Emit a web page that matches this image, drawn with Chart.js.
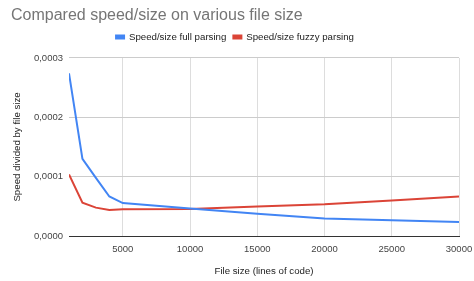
<!DOCTYPE html>
<html>
<head>
<meta charset="utf-8">
<script src="https://cdn.jsdelivr.net/npm/chart.js@4/dist/chart.umd.min.js"></script>
<style>
html,body{margin:0;padding:0;background:#fff;}
#wrap{width:474px;height:281px;position:relative;}
</style>
</head>
<body>
<div id="wrap"><canvas id="c" width="474" height="281"></canvas></div>
<script>
const titleText = 'Compared speed/size on various file size';
const seriesNames = ['Speed/size full parsing', 'Speed/size fuzzy parsing'];
const fileSizes = [1000, 2000, 3000, 4000, 5000, 10000, 15000, 20000, 25000, 30000];
const fullParsing = [0.000274, 0.000130, 0.000098, 0.0000665, 0.0000555, 0.0000465, 0.0000375, 0.0000295, 0.0000265, 0.0000235];
const fuzzyParsing = [0.0001035, 0.0000562, 0.0000478, 0.0000440, 0.0000452, 0.0000455, 0.0000495, 0.0000533, 0.0000600, 0.0000667];
const xTicks = [5000, 10000, 15000, 20000, 25000, 30000];
const yTicks = [0, 0.0001, 0.0002, 0.0003];
const yTickLabels = ['0,0000', '0,0001', '0,0002', '0,0003'];
const xTitle = 'File size (lines of code)';
const yTitle = 'Speed divided by file size';

const FONT = "Arial, 'Liberation Sans', sans-serif";
Chart.defaults.font.family = FONT;

const legendSpace = {
  id: 'legendSpace',
  afterInit(chart) {
    if (chart.legend) {
      const origFit = chart.legend.fit;
      chart.legend.fit = function () { origFit.call(this); this.height += 6; };
    }
  }
};

new Chart(document.getElementById('c'), {
  type: 'line',
  data: {
    datasets: [
      { label: seriesNames[0], data: fileSizes.map((x, i) => ({ x, y: fullParsing[i] })),
        borderColor: '#4285F4', backgroundColor: '#4285F4', borderWidth: 2, pointRadius: 0, tension: 0 },
      { label: seriesNames[1], data: fileSizes.map((x, i) => ({ x, y: fuzzyParsing[i] })),
        borderColor: '#DB4437', backgroundColor: '#DB4437', borderWidth: 2, pointRadius: 0, tension: 0 }
    ]
  },
  options: {
    responsive: false,
    animation: false,
    layout: { padding: { left: 11, right: 15, top: 0, bottom: 0 } },
    plugins: {
      title: {
        display: true, text: titleText, align: 'start', color: '#757575',
        font: { size: 16, weight: 'normal' }, padding: { top: 6, bottom: 0 }
      },
      legend: {
        display: true, position: 'top',
        labels: { color: '#222', font: { size: 9.7 }, boxWidth: 8, boxHeight: 3, padding: 7 }
      },
      tooltip: { enabled: false }
    },
    scales: {
      x: {
        type: 'linear', min: 1000, max: 30000,
        afterBuildTicks: (axis) => { axis.ticks = xTicks.map(v => ({ value: v })); },
        afterFit: (axis) => { axis.height = 45; axis.paddingRight = 0; axis.paddingLeft = 0; },
        ticks: { color: '#444', font: { size: 9.5 }, padding: 8, maxRotation: 0,
                 callback: (v) => String(v) },
        grid: { color: '#dddddd', drawTicks: false },
        border: { color: '#333333', width: 1 },
        title: { display: true, text: xTitle, color: '#222', font: { size: 9.7 }, padding: { top: 10 } }
      },
      y: {
        min: 0, max: 0.0003,
        afterBuildTicks: (axis) => { axis.ticks = yTicks.map(v => ({ value: v })); },
        afterFit: (axis) => { axis.width = 58; axis.paddingTop = 0; axis.paddingBottom = 0; },
        ticks: { color: '#444', font: { size: 9.5 }, padding: 6,
                 callback: (v) => { const i = yTicks.indexOf(v); return i >= 0 ? yTickLabels[i] : ''; } },
        grid: { color: '#cccccc', drawTicks: false },
        border: { display: false },
        title: { display: true, text: yTitle, color: '#222', font: { size: 9.7 }, padding: 1 }
      }
    }
  },
  plugins: [legendSpace]
});
</script>
</body>
</html>
